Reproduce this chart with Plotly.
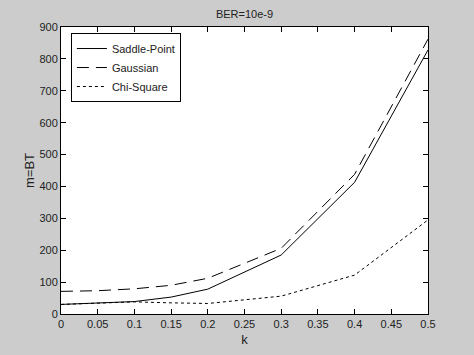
import plotly.graph_objects as go

k = [0, 0.05, 0.1, 0.15, 0.2, 0.3, 0.4, 0.5]
saddle = [30, 34, 39, 53, 78, 185, 413, 828]
gaussian = [71, 73, 79, 90, 112, 206, 438, 862]
chisq = [30, 34, 38, 35, 33, 56, 122, 295]

names = ["Saddle-Point", "Gaussian", "Chi-Square"]
series = [saddle, gaussian, chisq]
dashes = ["solid", "12px,7px", "3px,3px"]

fig = go.Figure()
for n, s, d in zip(names, series, dashes):
    fig.add_trace(go.Scatter(x=k, y=s, mode="lines", name=n,
                             line=dict(color="black", width=1, dash=d)))

axis_common = dict(showgrid=False, zeroline=False, showline=True, linecolor="black",
                   linewidth=1, mirror="allticks", ticks="inside", ticklen=5,
                   tickcolor="black", tickfont=dict(size=11, color="#222"))

fig.update_layout(
    width=474, height=355,
    margin=dict(l=61, r=46, t=27, b=41),
    paper_bgcolor="#cccccc", plot_bgcolor="white",
    font=dict(family="Liberation Sans, Arial", size=11, color="#222"),
    title=dict(text="BER=10e-9", x=0.5, xanchor="center", xref="paper",
               y=1 - 14 / 355, yanchor="middle", font=dict(size=11)),
    xaxis=dict(range=[0, 0.5], tickvals=[0, 0.05, 0.1, 0.15, 0.2, 0.25, 0.3, 0.35, 0.4, 0.45, 0.5],
               ticktext=["0", "0.05", "0.1", "0.15", "0.2", "0.25", "0.3", "0.35", "0.4", "0.45", "0.5"],
               title=dict(text="k", standoff=5), **axis_common),
    yaxis=dict(range=[0, 900], dtick=100, title=dict(text="m=BT", standoff=1), **axis_common),
    legend=dict(x=0.027, y=0.979, xanchor="left", yanchor="top", bgcolor="white",
                bordercolor="black", borderwidth=1, font=dict(size=11),
                tracegroupgap=0, itemwidth=30),
    showlegend=True,
)

fig.write_html("out.html")
